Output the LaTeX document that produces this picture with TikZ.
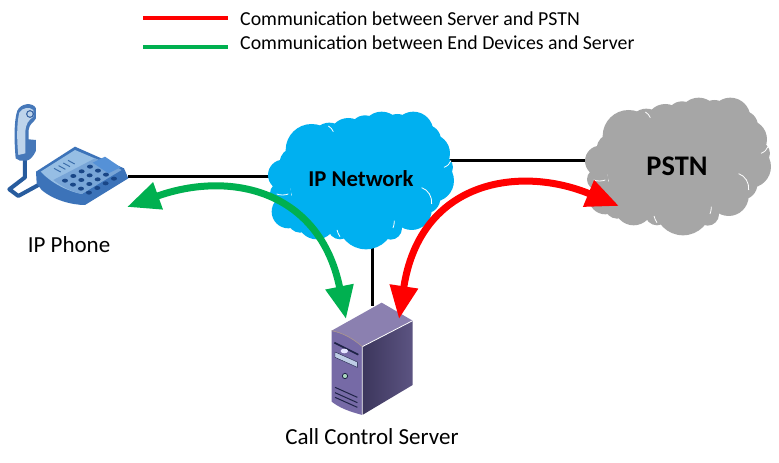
\documentclass[tikz,border=0pt]{standalone}
\usepackage{fontspec}
\setmainfont{Carlito}
\usetikzlibrary{arrows.meta}

% blob made of circles, in units of a third of a pixel
\newcommand{\cloudBlob}[3]{%
	\begin{scope}[shift={(#1,#2)},x=0.3333pt,y=-0.3333pt]
		\foreach \cx/\cy/\rr in {70/255/46,85/365/50,170/390/58,318/393/85,455/360/60,518/272/64,512/190/58,460/125/60,365/125/60,265/142/58,155/180/78,300/260/150,200/280/110,420/260/120,208/150/52,315/122/46,412/118/46,497/150/46,545/232/34,495/325/46,392/415/34,240/412/36,120/392/36,62/310/32,100/215/40}
			\fill [#3] (\cx,\cy) circle (\rr);
		\draw [white, line width=0.8pt] (50,312) .. controls (60,316) and (75,316) .. (85,312);
		\draw [white, line width=0.8pt] (485,293) .. controls (505,300) and (517,320) .. (515,342);
		\draw [white, line width=0.8pt] (205,108) .. controls (212,112) and (217,118) .. (220,125);
		\draw [white, line width=0.8pt] (552,232) .. controls (562,228) and (570,222) .. (573,212);
		\draw [white, line width=0.8pt] (231,420) .. controls (233,428) and (236,434) .. (240,440);
		\draw [white, line width=0.8pt] (403,392) .. controls (403,400) and (402,408) .. (399,414);
	\end{scope}}

\begin{document}
\begin{tikzpicture}[x=1pt,y=-1pt]
	\tikzstyle{legendText} = [anchor=west, inner sep=0pt, font=\fontsize{19.8}{22}\selectfont]
	\tikzstyle{label} = [inner sep=0pt, font=\fontsize{23}{26}\selectfont]
	\tikzstyle{cloudText} = [inner sep=0pt, font=\bfseries\fontsize{22.7}{26}\selectfont]
	\tikzstyle{legendLine} = [line width=4pt]
	\tikzstyle{link} = [line width=3pt, black]
	\tikzstyle{flow} = [line width=7pt, {Triangle[length=33pt,width=27pt]}-{Triangle[length=33pt,width=27pt]}]
	\useasboundingbox (0,0) rectangle (779,463);
	\fill [white] (0,0) rectangle (779,463);

	% free ends
	\coordinate (redLegendA) at (143,18);
	\coordinate (redLegendB) at (228,18);
	\coordinate (greenLegendA) at (143,47);
	\coordinate (greenLegendB) at (228,47);
	\coordinate (phonePort) at (128,176);
	\coordinate (ipLeft) at (272,176);
	\coordinate (ipRight) at (448,160);
	\coordinate (pstnLeft) at (590,160);
	\coordinate (ipBottom) at (372,240);
	\coordinate (serverTop) at (372,306);
	\coordinate (phoneTip) at (127,207);
	\coordinate (serverGreenTip) at (346,319);
	\coordinate (serverRedTip) at (399,319);
	\coordinate (pstnTip) at (619,206);

	\node (redLegend) [legendText] at (240,19) {Communication between Server and PSTN};
	\node (greenLegend) [legendText] at (240,43) {Communication between End Devices and Server};
	\draw [legendLine, red] (redLegendA) -- (redLegendB);
	\draw [legendLine, draw={rgb,255:red,0;green,176;blue,80}] (greenLegendA) -- (greenLegendB);

	\draw [link] (phonePort) -- (ipLeft);
	\draw [link] (ipRight) -- (pstnLeft);
	\draw [link] (ipBottom) -- (serverTop);

	\cloudBlob{260}{90}{fill={rgb,255:red,0;green,176;blue,240}}
	\cloudBlob{577}{76}{fill={rgb,255:red,166;green,166;blue,166}}
	\node (ipNetwork) [cloudText] at (361,179) {IP Network};
	\node (pstn) [cloudText, font=\bfseries\fontsize{28.4}{32}\selectfont] at (677,166) {PSTN};

	% phone
	\begin{scope}[shift={(0,90)},x=0.3333pt,y=-0.3333pt]
		\draw [line width=4pt, line join=round, draw={rgb,255:red,40;green,92;blue,158}] (75,205) -- (75,262) -- (28,298) -- (55,318) -- (128,278);
		\fill [fill={rgb,255:red,70;green,120;blue,185}] (47,205) .. controls (42,150) and (42,90) .. (52,62) .. controls (62,40) and (98,35) .. (108,55) -- (108,85) .. controls (100,100) and (88,100) .. (86,120) -- (86,148) -- (108,150) -- (108,182) .. controls (100,200) and (90,210) .. (80,212) -- (60,212) -- cycle;
		\fill [fill={rgb,255:red,190;green,212;blue,235}] (55,195) .. controls (50,150) and (50,100) .. (58,68) .. controls (66,52) and (90,50) .. (100,60) -- (100,80) .. controls (85,92) and (78,100) .. (76,125) -- (76,190) -- cycle;
		\draw [line width=1pt, draw={rgb,255:red,50;green,95;blue,160}] (90,72) circle (10);
		\fill [fill={rgb,255:red,60;green,115;blue,185}] (108,245) -- (225,170) -- (372,235) -- (385,265) -- (255,345) .. controls (215,345) and (160,330) .. (125,300) -- (110,280) -- cycle;
		\fill [fill={rgb,255:red,150;green,190;blue,228}] (122,245) -- (225,180) -- (362,238) -- (245,312) .. controls (210,305) and (160,285) .. (122,245) -- cycle;
		\fill [fill={rgb,255:red,120;green,165;blue,215}] (160,270) -- (285,205) -- (365,240) -- (245,312) .. controls (215,305) and (185,290) .. (160,270) -- cycle;
		\fill [fill={rgb,255:red,85;green,145;blue,215}] (278,218) -- (315,200) -- (362,232) -- (325,250) -- cycle;
		\foreach \i in {0,1,2,3}
			\foreach \j in {0,1,2,3}
				\fill [fill={rgb,255:red,25;green,70;blue,135}] ({195+\i*25+\j*24},{272-\i*14+\j*12}) ellipse (9 and 6);
		\foreach \i in {0,1,2,3}
			\draw [line width=1pt, draw={rgb,255:red,60;green,110;blue,170}] ({162+\i*14},{235-\i*8}) -- ({182+\i*14},{246-\i*8});
	\end{scope}
	\node (ipPhone) [label] at (69,245) {IP Phone};

	% server
	\begin{scope}[shift={(300,280)},x=0.3333pt,y=-0.3333pt]
		\fill [fill={rgb,255:red,139;green,128;blue,176}] (95,152) -- (245,68) -- (338,122) -- (187,200) .. controls (155,172) and (125,158) .. (95,152) -- cycle;
		\fill [fill={rgb,255:red,118;green,106;blue,166}] (95,152) .. controls (125,158) and (155,172) .. (187,200) -- (187,405) .. controls (150,395) and (120,385) .. (95,365) -- cycle;
		\shade [left color={rgb,255:red,60;green,54;blue,92}, right color={rgb,255:red,92;green,84;blue,130}] (187,200) -- (338,122) -- (338,315) -- (187,405) -- cycle;
		\draw [white, line width=0.8pt] (338,122) -- (187,200) -- (187,405);
		\draw [line width=0.8pt, draw={rgb,255:red,165;green,145;blue,145}] (95,152) .. controls (125,158) and (155,172) .. (187,200);
		\draw [line width=1.6pt, draw={rgb,255:red,30;green,35;blue,70}] (103,188) -- (175,224);
		\fill [white!90!blue] (133,213) ellipse (11 and 7);
		\fill [fill={rgb,255:red,190;green,205;blue,230}, draw={rgb,255:red,30;green,35;blue,70}] (105,216) -- (172,246) -- (172,262) -- (105,232) -- cycle;
		\fill [fill={rgb,255:red,170;green,215;blue,190}, draw={rgb,255:red,30;green,35;blue,70}, line width=0.8pt] (135,288) circle (8);
		\foreach \vy in {322,338,352}
			\draw [line width=1pt, draw={rgb,255:red,30;green,35;blue,70}] (105,\vy) -- (172,{\vy+30});
	\end{scope}
	\node (callServer) [label] at (372,437) {Call Control Server};

	\draw [flow, draw={rgb,255:red,0;green,176;blue,80}] (phoneTip) .. controls (230,170) and (320,190) .. (serverGreenTip);
	\draw [flow, draw=red] (serverRedTip) .. controls (420,180) and (520,165) .. (pstnTip);
\end{tikzpicture}
\end{document}
